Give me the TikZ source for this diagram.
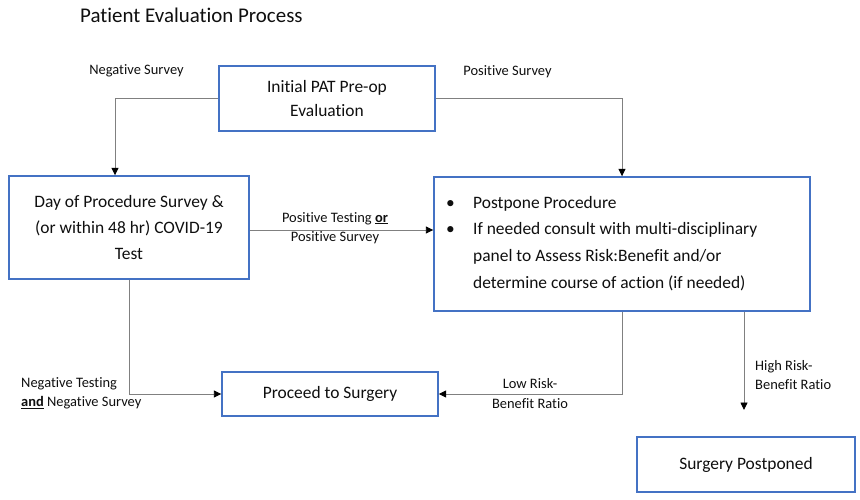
\documentclass[tikz,border=0pt]{standalone}
\usepackage{fontspec}
\setmainfont[Ligatures=NoCommon]{Carlito}
\usetikzlibrary{arrows.meta,calc}
\definecolor{boxblue}{RGB}{68,114,196}
\definecolor{conngray}{RGB}{128,128,128}
\definecolor{txt}{RGB}{15,15,15}
\begin{document}
\begin{tikzpicture}[x=1bp,y=-1bp,
  box/.style={draw=boxblue, line width=1.4bp, fill=white, align=center, text=txt,
    font=\fontsize{17.5}{24.5}\selectfont, inner sep=0pt},
  conn/.style={draw=conngray, line width=0.9bp, -{Triangle[length=7.5bp,width=7bp,color=black]}},
  lbl/.style={font=\fontsize{14.5}{19.5}\selectfont, inner sep=0pt, text=txt},
  ttl/.style={font=\fontsize{21}{24}\selectfont, inner sep=0pt, text=txt}]
\useasboundingbox (0,0) rectangle (860,500);

\node[ttl, anchor=west] (title) at (80,15) {Patient Evaluation Process};

\node[box, minimum width=216bp, minimum height=65bp] (init) at (327,98.5) {Initial PAT Pre-op\\Evaluation};
\node[box, minimum width=240bp, minimum height=103bp, font=\fontsize{17.5}{26}\selectfont] (day) at (129,227.5)
  {Day of Procedure Survey \&\\(or within 48 hr) COVID-19\\Test};
\node[box, minimum width=376bp, minimum height=134bp] (post) at (622,244) {};
\node[anchor=west, inner sep=0pt, text=txt, font=\fontsize{17.5}{27}\selectfont] (postText) at (446,243)
  {\begin{tabular}{@{}p{27bp}@{}l@{}}
   \textbullet & Postpone Procedure\\
   \textbullet & If needed consult with multi-disciplinary\\
   & panel to Assess Risk:Benefit and/or\\
   & determine course of action (if needed)
   \end{tabular}};
\node[box, minimum width=216bp, minimum height=44bp] (proc) at (330,394) {Proceed to Surgery};
\node[box, minimum width=218bp, minimum height=55bp] (spp) at (746,464.5) {Surgery Postponed};

% connectors
\draw[conn] (init.west) -| ($(day.north)+(-14,0)$);
\draw[conn] (init.east) -| (post.north);
\coordinate (dayE) at ($(day.east)+(0,2.5)$);
\draw[conn] (dayE) -- (dayE -| post.west);
\draw[conn] (day.south) |- (proc.west);
\draw[conn] (post.south) |- (proc.east);
\coordinate (hrTop) at ($(post.south)+(122,0)$);
\coordinate (hrEnd) at (744,410);
\draw[conn] (hrTop) -- (hrEnd);

% labels
\node[lbl] (lNeg) at (136.5,71) {Negative Survey};
\node[lbl] (lPos) at (507.5,72) {Positive Survey};
\node[lbl, align=center] (lPT) at (335,228) {Positive Testing \underline{\textbf{or}}\\Positive Survey};
\node[lbl, align=left, anchor=west] (lNT) at (21,393.5) {Negative Testing\\\underline{\textbf{and}} Negative Survey};
\node[lbl, align=center] (lLow) at (530,393.5) {Low Risk-\\Benefit Ratio};
\node[lbl, align=left, anchor=west] (lHigh) at (755,375) {High Risk-\\Benefit Ratio};
\end{tikzpicture}
\end{document}
